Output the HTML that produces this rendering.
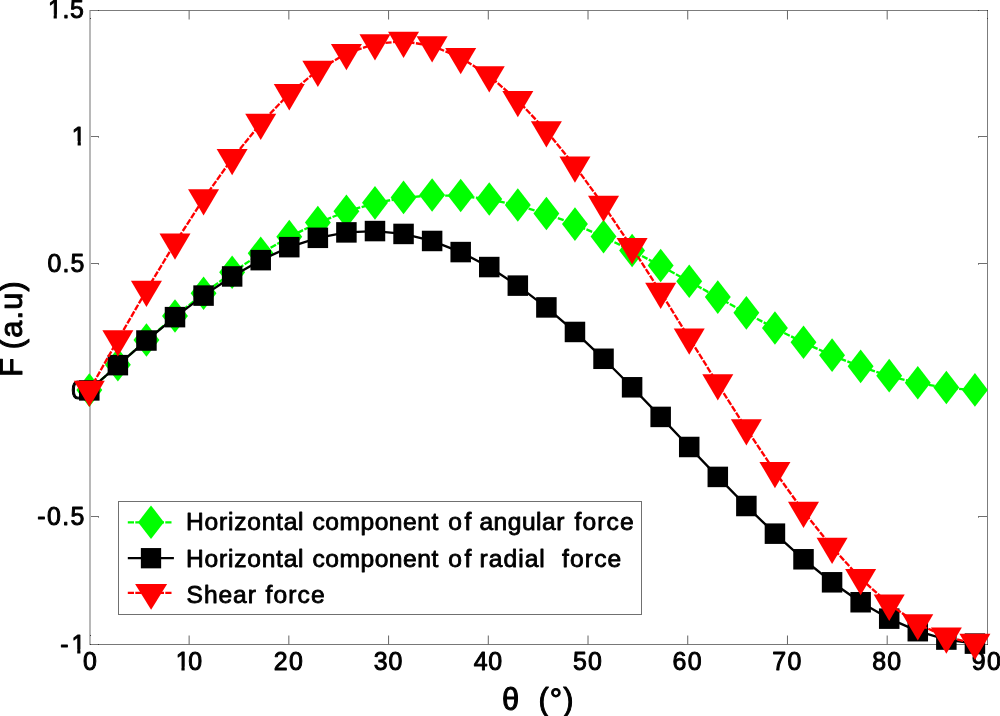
<!DOCTYPE html>
<html><head><meta charset="utf-8"><title>Force components</title>
<style>
html,body{margin:0;padding:0;background:#fff;}
body{width:1000px;height:716px;overflow:hidden;}
svg{display:block;font-family:"Liberation Sans",Arial,Helvetica,sans-serif;font-kerning:none;}
text{fill:#000;stroke:#000;stroke-linejoin:round;white-space:pre;}
.tk{font-size:24.9px;stroke-width:0.95px;}
.lg{font-size:24.6px;stroke-width:0.85px;}
.lb{font-size:30.8px;stroke-width:1.0px;}
</style></head><body>
<svg width="1000" height="716" viewBox="0 0 1000 716">
<rect width="1000" height="716" fill="#fff"/>

<g shape-rendering="crispEdges">
<rect x="89" y="10" width="2" height="635" fill="#b8b8b8"/>
<rect x="90" y="10" width="898" height="1" fill="#7c7c7c"/>
<rect x="90" y="644" width="898" height="1" fill="#787878"/>
<rect x="987" y="10" width="1" height="635" fill="#7c7c7c"/>
<rect x="98" y="10" width="1" height="1" fill="#3a3a3a"/>
<rect x="90" y="18" width="1" height="1" fill="#3a3a3a"/>
<rect x="978" y="10" width="1" height="1" fill="#3a3a3a"/>
<rect x="987" y="10" width="1" height="1" fill="#3a3a3a"/>
<rect x="987" y="18" width="1" height="1" fill="#3a3a3a"/>
<rect x="90" y="644" width="1" height="1" fill="#3a3a3a"/>
<rect x="98" y="644" width="1" height="1" fill="#3a3a3a"/>
<rect x="90" y="635" width="1" height="1" fill="#3a3a3a"/>
<rect x="978" y="644" width="1" height="1" fill="#3a3a3a"/>
<rect x="987" y="644" width="1" height="1" fill="#3a3a3a"/>
<rect x="987" y="635" width="1" height="1" fill="#3a3a3a"/>
<rect x="91" y="136" width="8" height="1" fill="#707070"/>
<rect x="98" y="137" width="1" height="1" fill="#9a9a9a"/>
<rect x="978" y="136" width="9" height="1" fill="#707070"/>
<rect x="978" y="137" width="1" height="1" fill="#9a9a9a"/>
<rect x="91" y="263" width="8" height="1" fill="#707070"/>
<rect x="98" y="264" width="1" height="1" fill="#9a9a9a"/>
<rect x="978" y="263" width="9" height="1" fill="#707070"/>
<rect x="978" y="264" width="1" height="1" fill="#9a9a9a"/>
<rect x="91" y="390" width="8" height="1" fill="#707070"/>
<rect x="98" y="391" width="1" height="1" fill="#9a9a9a"/>
<rect x="978" y="390" width="9" height="1" fill="#707070"/>
<rect x="978" y="391" width="1" height="1" fill="#9a9a9a"/>
<rect x="91" y="516" width="8" height="1" fill="#707070"/>
<rect x="98" y="517" width="1" height="1" fill="#9a9a9a"/>
<rect x="978" y="516" width="9" height="1" fill="#707070"/>
<rect x="978" y="517" width="1" height="1" fill="#9a9a9a"/>
</g>
<rect x="188.62" y="635.5" width="1" height="9" fill="#666"/>
<rect x="188.62" y="10.5" width="1" height="9" fill="#666"/>
<rect x="288.34" y="635.5" width="1" height="9" fill="#666"/>
<rect x="288.34" y="10.5" width="1" height="9" fill="#666"/>
<rect x="388.07" y="635.5" width="1" height="9" fill="#666"/>
<rect x="388.07" y="10.5" width="1" height="9" fill="#666"/>
<rect x="487.79" y="635.5" width="1" height="9" fill="#666"/>
<rect x="487.79" y="10.5" width="1" height="9" fill="#666"/>
<rect x="587.51" y="635.5" width="1" height="9" fill="#666"/>
<rect x="587.51" y="10.5" width="1" height="9" fill="#666"/>
<rect x="687.23" y="635.5" width="1" height="9" fill="#666"/>
<rect x="687.23" y="10.5" width="1" height="9" fill="#666"/>
<rect x="786.96" y="635.5" width="1" height="9" fill="#666"/>
<rect x="786.96" y="10.5" width="1" height="9" fill="#666"/>
<rect x="886.68" y="635.5" width="1" height="9" fill="#666"/>
<rect x="886.68" y="10.5" width="1" height="9" fill="#666"/>
<text class="tk" x="47.88" y="18.00" letter-spacing="0.738">1.5</text><g fill="#fff"><rect x="48.30" y="14.36" width="5.34" height="5.41"/><rect x="56.84" y="14.36" width="5.15" height="5.41"/></g>
<text class="tk" x="71.86" y="144.60" letter-spacing="0.000">1</text><g fill="#fff"><rect x="72.28" y="140.96" width="5.34" height="5.41"/><rect x="80.82" y="140.96" width="5.15" height="5.41"/></g>
<text class="tk" x="47.50" y="272.20" letter-spacing="1.127">0.5</text>
<text class="tk" x="71.20" y="398.80" letter-spacing="0.000">0</text>
<text class="tk" x="37.37" y="525.40" letter-spacing="1.365">-0.5</text>
<text class="tk" y="653.00"><tspan x="60.17" letter-spacing="0.000">-</tspan><tspan x="71.46" letter-spacing="0.000">1</tspan></text><g fill="#fff"><rect x="71.88" y="649.36" width="5.34" height="5.41"/><rect x="80.42" y="649.36" width="5.15" height="5.41"/></g>
<text class="tk" x="82.90" y="670.40" letter-spacing="0.000">0</text>
<text class="tk" x="175.68" y="670.40" letter-spacing="-1.379">10</text><g fill="#fff"><rect x="176.10" y="666.76" width="5.34" height="5.41"/><rect x="184.64" y="666.76" width="5.15" height="5.41"/></g>
<text class="tk" x="273.67" y="670.40" letter-spacing="1.379">20</text>
<text class="tk" x="373.69" y="670.40" letter-spacing="1.075">30</text>
<text class="tk" x="473.79" y="670.40" letter-spacing="0.698">40</text>
<text class="tk" x="573.09" y="670.40" letter-spacing="1.123">50</text>
<text class="tk" x="672.54" y="670.40" letter-spacing="1.391">60</text>
<text class="tk" x="772.25" y="670.40" letter-spacing="1.403">70</text>
<text class="tk" x="872.17" y="670.40" letter-spacing="1.208">80</text>
<text class="tk" x="971.81" y="670.40" letter-spacing="1.293">90</text>
<text class="lb" y="709.90"><tspan x="501.91" letter-spacing="0.000">θ  </tspan><tspan x="538.39" letter-spacing="1.195">(°)</tspan></text>
<text class="lb" transform="translate(22.30,0) rotate(-90)"><tspan x="-376.73" letter-spacing="0.000">F </tspan><tspan x="-349.31" letter-spacing="1.198">(a.u)</tspan></text>
<polyline points="89.30,390.40 117.87,365.11 146.44,340.27 175.00,316.30 203.57,293.61 232.14,272.60 260.71,253.60 289.28,236.93 317.85,222.84 346.41,211.52 374.98,203.13 403.55,197.72 432.12,195.32 460.69,195.87 489.26,199.26 517.82,205.31 546.39,213.79 574.96,224.42 603.53,236.88 632.10,250.81 660.67,265.81 689.23,281.48 717.80,297.40 746.37,313.15 774.94,328.33 803.51,342.54 832.08,355.43 860.64,366.66 889.21,375.96 917.78,383.09 946.35,387.87 974.92,390.18" fill="none" stroke="#00ff00" stroke-width="2.35" stroke-dasharray="6.2 1.5"/>
<g fill="#00ff00"><polygon points="89.30,373.30 102.25,390.10 89.30,406.90 76.35,390.10"/><polygon points="117.87,348.01 130.82,364.81 117.87,381.61 104.92,364.81"/><polygon points="146.44,323.17 159.39,339.97 146.44,356.77 133.49,339.97"/><polygon points="175.00,299.20 187.95,316.00 175.00,332.80 162.05,316.00"/><polygon points="203.57,276.51 216.52,293.31 203.57,310.11 190.62,293.31"/><polygon points="232.14,255.50 245.09,272.30 232.14,289.10 219.19,272.30"/><polygon points="260.71,236.50 273.66,253.30 260.71,270.10 247.76,253.30"/><polygon points="289.28,219.83 302.23,236.63 289.28,253.43 276.33,236.63"/><polygon points="317.85,205.74 330.80,222.54 317.85,239.34 304.90,222.54"/><polygon points="346.41,194.42 359.36,211.22 346.41,228.02 333.46,211.22"/><polygon points="374.98,186.03 387.93,202.83 374.98,219.63 362.03,202.83"/><polygon points="403.55,180.62 416.50,197.42 403.55,214.22 390.60,197.42"/><polygon points="432.12,178.22 445.07,195.02 432.12,211.82 419.17,195.02"/><polygon points="460.69,178.77 473.64,195.57 460.69,212.37 447.74,195.57"/><polygon points="489.26,182.16 502.21,198.96 489.26,215.76 476.31,198.96"/><polygon points="517.82,188.21 530.77,205.01 517.82,221.81 504.87,205.01"/><polygon points="546.39,196.69 559.34,213.49 546.39,230.29 533.44,213.49"/><polygon points="574.96,207.32 587.91,224.12 574.96,240.92 562.01,224.12"/><polygon points="603.53,219.78 616.48,236.58 603.53,253.38 590.58,236.58"/><polygon points="632.10,233.71 645.05,250.51 632.10,267.31 619.15,250.51"/><polygon points="660.67,248.71 673.62,265.51 660.67,282.31 647.72,265.51"/><polygon points="689.23,264.38 702.18,281.18 689.23,297.98 676.28,281.18"/><polygon points="717.80,280.30 730.75,297.10 717.80,313.90 704.85,297.10"/><polygon points="746.37,296.05 759.32,312.85 746.37,329.65 733.42,312.85"/><polygon points="774.94,311.23 787.89,328.03 774.94,344.83 761.99,328.03"/><polygon points="803.51,325.44 816.46,342.24 803.51,359.04 790.56,342.24"/><polygon points="832.08,338.33 845.03,355.13 832.08,371.93 819.13,355.13"/><polygon points="860.64,349.56 873.59,366.36 860.64,383.16 847.69,366.36"/><polygon points="889.21,358.86 902.16,375.66 889.21,392.46 876.26,375.66"/><polygon points="917.78,365.99 930.73,382.79 917.78,399.59 904.83,382.79"/><polygon points="946.35,370.77 959.30,387.57 946.35,404.37 933.40,387.57"/><polygon points="974.92,373.08 987.87,389.88 974.92,406.68 961.97,389.88"/></g>
<polyline points="89.30,390.40 117.87,365.15 146.44,340.52 175.00,317.14 203.57,295.60 232.14,276.44 260.71,260.15 289.28,247.16 317.85,237.82 346.41,232.39 374.98,231.07 403.55,233.93 432.12,240.97 460.69,252.08 489.26,267.06 517.82,285.63 546.39,307.41 574.96,331.96 603.53,358.78 632.10,387.29 660.67,416.91 689.23,446.99 717.80,476.91 746.37,506.00 774.94,533.66 803.51,559.28 832.08,582.30 860.64,602.24 889.21,618.65 917.78,631.19 946.35,639.57 974.92,643.62" fill="none" stroke="#000" stroke-width="2.35"/>
<g fill="#000"><rect x="79.05" y="380.15" width="20.50" height="20.50"/><rect x="107.62" y="354.90" width="20.50" height="20.50"/><rect x="136.19" y="330.27" width="20.50" height="20.50"/><rect x="164.75" y="306.89" width="20.50" height="20.50"/><rect x="193.32" y="285.35" width="20.50" height="20.50"/><rect x="221.89" y="266.19" width="20.50" height="20.50"/><rect x="250.46" y="249.90" width="20.50" height="20.50"/><rect x="279.03" y="236.91" width="20.50" height="20.50"/><rect x="307.60" y="227.57" width="20.50" height="20.50"/><rect x="336.16" y="222.14" width="20.50" height="20.50"/><rect x="364.73" y="220.82" width="20.50" height="20.50"/><rect x="393.30" y="223.68" width="20.50" height="20.50"/><rect x="421.87" y="230.72" width="20.50" height="20.50"/><rect x="450.44" y="241.83" width="20.50" height="20.50"/><rect x="479.01" y="256.81" width="20.50" height="20.50"/><rect x="507.57" y="275.38" width="20.50" height="20.50"/><rect x="536.14" y="297.16" width="20.50" height="20.50"/><rect x="564.71" y="321.71" width="20.50" height="20.50"/><rect x="593.28" y="348.53" width="20.50" height="20.50"/><rect x="621.85" y="377.04" width="20.50" height="20.50"/><rect x="650.42" y="406.66" width="20.50" height="20.50"/><rect x="678.98" y="436.74" width="20.50" height="20.50"/><rect x="707.55" y="466.66" width="20.50" height="20.50"/><rect x="736.12" y="495.75" width="20.50" height="20.50"/><rect x="764.69" y="523.41" width="20.50" height="20.50"/><rect x="793.26" y="549.03" width="20.50" height="20.50"/><rect x="821.83" y="572.05" width="20.50" height="20.50"/><rect x="850.39" y="591.99" width="20.50" height="20.50"/><rect x="878.96" y="608.40" width="20.50" height="20.50"/><rect x="907.53" y="620.94" width="20.50" height="20.50"/><rect x="936.10" y="629.32" width="20.50" height="20.50"/><rect x="964.67" y="633.37" width="20.50" height="20.50"/></g>
<polyline points="89.30,390.40 117.87,339.86 146.44,290.39 175.00,243.04 203.57,198.81 232.14,158.64 260.71,123.35 289.28,93.69 317.85,70.25 346.41,53.52 374.98,43.80 403.55,41.26 432.12,45.89 460.69,57.55 489.26,75.92 517.82,100.53 546.39,130.80 574.96,165.98 603.53,205.26 632.10,247.70 660.67,292.32 689.23,338.07 717.80,383.90 746.37,428.75 774.94,471.59 803.51,511.42 832.08,547.33 860.64,578.50 889.21,604.21 917.78,623.87 946.35,637.04 974.92,643.40" fill="none" stroke="#ff0000" stroke-width="2.35" stroke-dasharray="6.2 1.5"/>
<g fill="#ff0000"><polygon points="73.80,380.80 104.80,380.80 89.30,407.10"/><polygon points="102.37,330.26 133.37,330.26 117.87,356.56"/><polygon points="130.94,280.79 161.94,280.79 146.44,307.09"/><polygon points="159.50,233.44 190.50,233.44 175.00,259.74"/><polygon points="188.07,189.21 219.07,189.21 203.57,215.51"/><polygon points="216.64,149.04 247.64,149.04 232.14,175.34"/><polygon points="245.21,113.75 276.21,113.75 260.71,140.05"/><polygon points="273.78,84.09 304.78,84.09 289.28,110.39"/><polygon points="302.35,60.65 333.35,60.65 317.85,86.95"/><polygon points="330.91,43.92 361.91,43.92 346.41,70.22"/><polygon points="359.48,34.20 390.48,34.20 374.98,60.50"/><polygon points="388.05,31.66 419.05,31.66 403.55,57.96"/><polygon points="416.62,36.29 447.62,36.29 432.12,62.59"/><polygon points="445.19,47.95 476.19,47.95 460.69,74.25"/><polygon points="473.76,66.32 504.76,66.32 489.26,92.62"/><polygon points="502.32,90.93 533.32,90.93 517.82,117.23"/><polygon points="530.89,121.20 561.89,121.20 546.39,147.50"/><polygon points="559.46,156.38 590.46,156.38 574.96,182.68"/><polygon points="588.03,195.66 619.03,195.66 603.53,221.96"/><polygon points="616.60,238.10 647.60,238.10 632.10,264.40"/><polygon points="645.17,282.72 676.17,282.72 660.67,309.02"/><polygon points="673.73,328.47 704.73,328.47 689.23,354.77"/><polygon points="702.30,374.30 733.30,374.30 717.80,400.60"/><polygon points="730.87,419.15 761.87,419.15 746.37,445.45"/><polygon points="759.44,461.99 790.44,461.99 774.94,488.29"/><polygon points="788.01,501.82 819.01,501.82 803.51,528.12"/><polygon points="816.58,537.73 847.58,537.73 832.08,564.03"/><polygon points="845.14,568.90 876.14,568.90 860.64,595.20"/><polygon points="873.71,594.61 904.71,594.61 889.21,620.91"/><polygon points="902.28,614.27 933.28,614.27 917.78,640.57"/><polygon points="930.85,627.44 961.85,627.44 946.35,653.74"/><polygon points="959.42,633.80 990.42,633.80 974.92,660.10"/></g>
<g shape-rendering="crispEdges"><rect x="118.5" y="501.5" width="523" height="113" fill="#fff" stroke="#707070" stroke-width="1"/></g>
<line x1="127.8" y1="522.4" x2="171.8" y2="522.4" stroke="#00ff00" stroke-width="2.3" stroke-dasharray="6.2 1.3"/>
<g fill="#00ff00"><polygon points="151.00,505.40 163.95,522.20 151.00,539.00 138.05,522.20"/></g>
<line x1="127.8" y1="558.2" x2="173.9" y2="558.2" stroke="#000" stroke-width="2.3"/>
<g fill="#000"><rect x="140.85" y="548.05" width="20.30" height="20.30"/></g>
<line x1="127.8" y1="592.8" x2="171.8" y2="592.8" stroke="#ff0000" stroke-width="2.3" stroke-dasharray="6.2 1.3"/>
<g fill="#ff0000"><polygon points="135.10,584.00 167.10,584.00 151.10,609.80"/></g>
<text class="lg" y="530.40"><tspan x="186.01" letter-spacing="0.763">Horizontal </tspan><tspan x="312.38" letter-spacing="0.533">component </tspan><tspan x="448.19" letter-spacing="2.531">of </tspan><tspan x="479.38" letter-spacing="0.490">angular </tspan><tspan x="574.48" letter-spacing="1.126">force</tspan></text>
<text class="lg" y="566.80"><tspan x="186.01" letter-spacing="0.763">Horizontal </tspan><tspan x="312.38" letter-spacing="0.533">component </tspan><tspan x="448.19" letter-spacing="2.531">of </tspan><tspan x="479.59" letter-spacing="1.013">radial  </tspan><tspan x="562.08" letter-spacing="1.126">force</tspan></text>
<text class="lg" y="602.90"><tspan x="186.61" letter-spacing="0.908">Shear </tspan><tspan x="265.58" letter-spacing="1.101">force</tspan></text>
</svg></body></html>
